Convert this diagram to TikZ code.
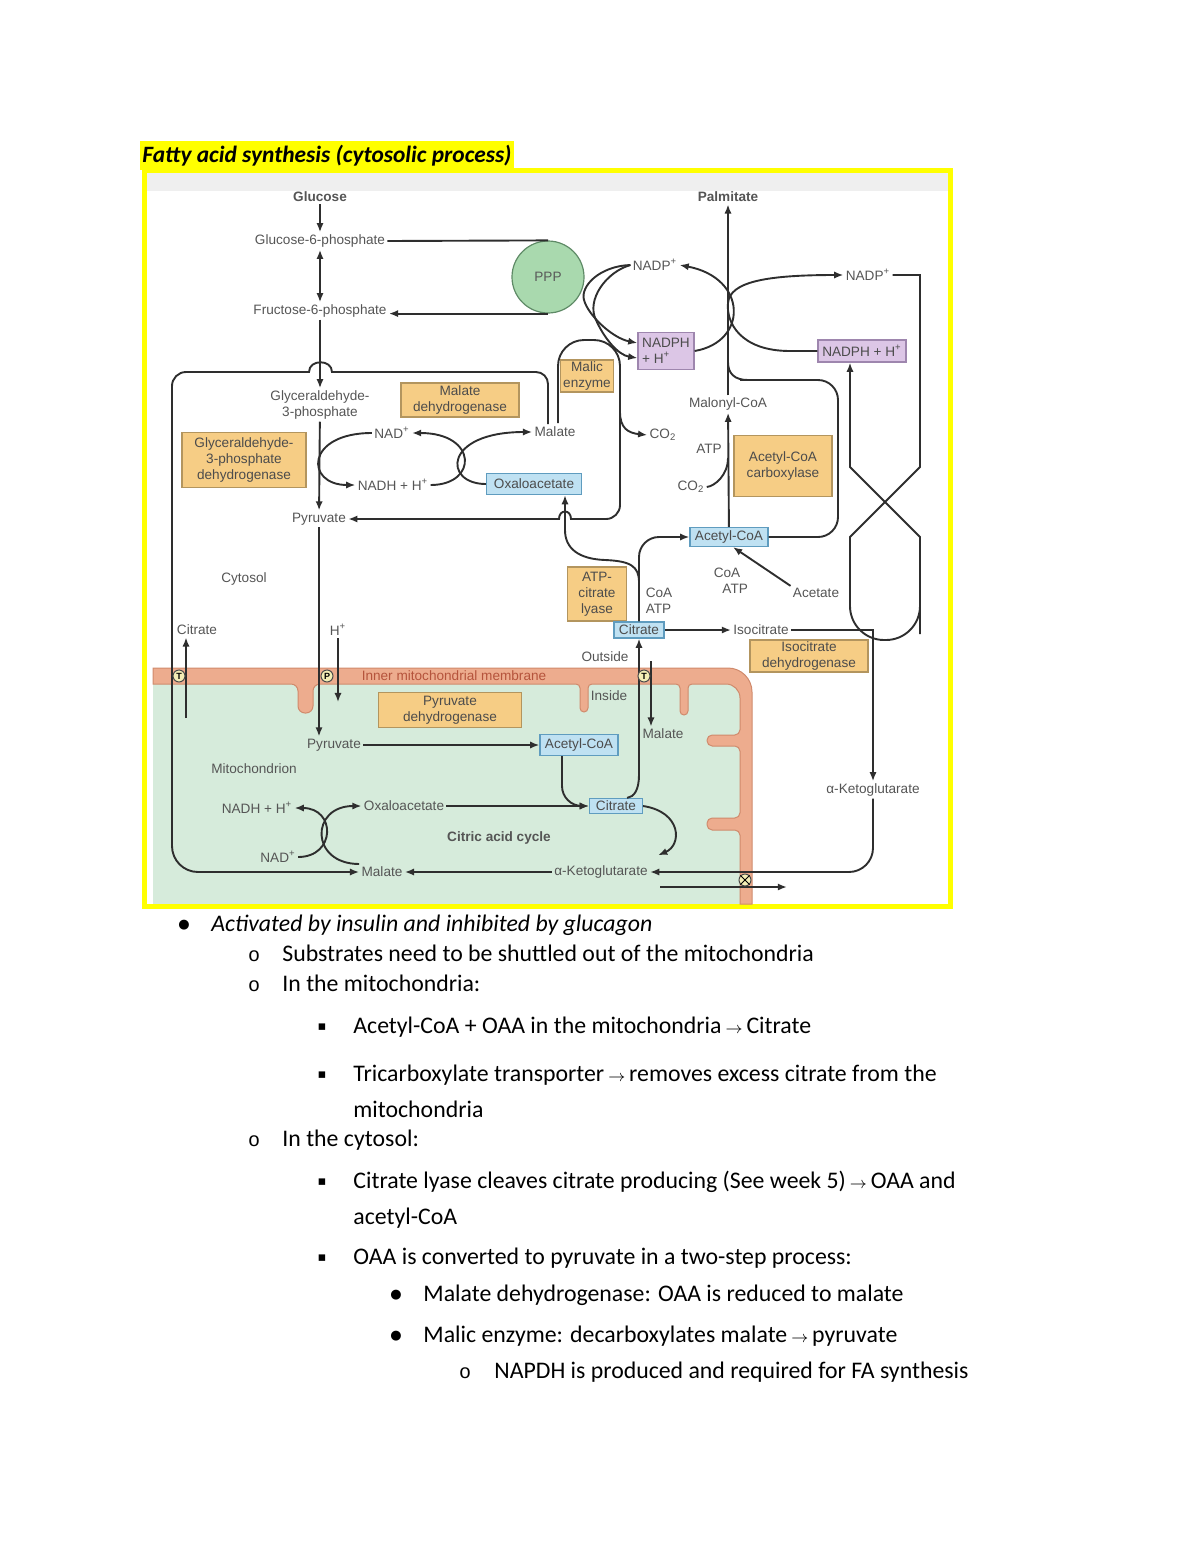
\documentclass[tikz,border=0pt]{standalone}
\usepackage{fontspec}
\setmainfont{Carlito}
\newfontfamily\arialfont{Liberation Sans}
\newfontfamily\symfont{DejaVu Sans}
\newfontfamily\courfont{Liberation Mono}
\usetikzlibrary{arrows.meta}

\definecolor{hlyellow}{HTML}{FFFF00}
\definecolor{bandgrey}{HTML}{EFEFEF}
\definecolor{mitogreen}{HTML}{D6EBDB}
\definecolor{memfill}{HTML}{EDAC8E}
\definecolor{memedge}{HTML}{D08A6C}
\definecolor{enzfill}{HTML}{F6CD85}
\definecolor{enzline}{HTML}{B3955E}
\definecolor{metfill}{HTML}{BFE1F2}
\definecolor{metline}{HTML}{5F9CBF}
\definecolor{nadfill}{HTML}{DCC6E6}
\definecolor{nadline}{HTML}{9E86AE}
\definecolor{pppfill}{HTML}{A9D9AE}
\definecolor{pppline}{HTML}{5E8A66}
\definecolor{txtgrey}{HTML}{555555}
\definecolor{linegrey}{HTML}{2E2E2E}
\definecolor{memtext}{HTML}{B5543C}
\definecolor{portfill}{HTML}{F3EDB5}

\newcommand{\lblfont}{\arialfont\fontsize{6.8}{8}\selectfont}
\newcommand{\bodyfont}{\fontsize{11.9}{14}\selectfont}
\newcommand{\sarrow}{\,{$\scriptstyle\rightarrow$}\,}

\tikzset{
  lbl/.style={font=\lblfont, text=txtgrey, inner sep=1pt, align=center},
  boldlbl/.style={lbl, font=\lblfont\bfseries},
  enzbox/.style={lbl, draw=enzline, fill=enzfill, line width=0.6pt, text=black!70, inner sep=0.5pt},
  metbox/.style={lbl, draw=metline, fill=metfill, line width=0.6pt, text=black!70, inner sep=0.5pt},
  nadbox/.style={lbl, draw=nadline, fill=nadfill, line width=0.6pt, text=black!70, inner sep=0.5pt},
  flow/.style={draw=linegrey, line width=0.95pt, ->},
  flowboth/.style={draw=linegrey, line width=0.95pt, <->},
  link/.style={draw=linegrey, line width=0.95pt},
  port/.style={circle, draw=black!70, fill=portfill, line width=0.5pt, minimum size=6pt, inner sep=0pt,
    font=\arialfont\fontsize{4.5}{4.5}\selectfont\bfseries},
  bodytxt/.style={anchor=base west, font=\bodyfont, inner sep=0pt},
  dotbullet/.style={font=\symfont\fontsize{6.5}{6.5}\selectfont, inner sep=0pt},
  ringbullet/.style={font=\courfont\fontsize{10}{10}\selectfont, inner sep=0pt},
  sqbullet/.style={font=\symfont\fontsize{6.5}{6.5}\selectfont, inner sep=0pt},
}

\begin{document}
\begin{tikzpicture}[x=0.5pt, y=-0.5pt, >={Latex[length=4.6pt,width=3.6pt]}]
  \useasboundingbox (0,0) rectangle (1200,1553);
  % 标题与黄色框
  \fill[hlyellow] (140,141) rectangle (514,170);
  \node[anchor=west, inner sep=0pt, font=\fontsize{11.7}{13}\selectfont\bfseries\itshape] (title) at (142,156)
    {Fatty acid synthesis (cytosolic process)};
  \draw[hlyellow, line width=2.5pt] (144.5,170.5) rectangle (950.5,906.5);
  \fill[bandgrey] (147,173) rectangle (948,191);
  % 线粒体背景与内膜
  \fill[mitogreen] (153,684) rectangle (740,904);
  \filldraw[fill=memfill, draw=memedge, line width=0.5pt]
    (153,668) [rounded corners=12pt] -- (752,668) -- (752,800) [sharp corners] -- (752,904) -- (740,904)
    -- (740,860) [rounded corners=2.6pt] -- (740,830) -- (707,830) -- (707,818) -- (740,818)
    -- (740,746) -- (707,746) -- (707,735) -- (740,735) -- (740,715) [rounded corners=7pt] -- (740,684)
    -- (710,684) [rounded corners=2pt] -- (688,684) -- (688,715) -- (680,715) -- (680,684)
    -- (588,684) -- (588,712) -- (580,712) -- (580,684) -- (400,684) [rounded corners=3.5pt]
    -- (313,684) -- (313,713) -- (298,713) -- (298,684) -- (250,684) [sharp corners] -- (153,684) -- cycle;

  % 胞质
  \node[boldlbl] (glc) at (320,197) {Glucose};
  \node[lbl] (g6p) at (320,241) {Glucose-6-phosphate};
  \node[lbl] (f6p) at (320,311) {Fructose-6-phosphate};
  \node[circle, draw=pppline, fill=pppfill, line width=0.6pt, minimum size=36pt, inner sep=0pt,
    font=\lblfont, text=black!65] (ppp) at (548,277) {PPP};
  \node[lbl] (g3p) at (320,405) {Glyceraldehyde-\\3-phosphate};
  \node[enzbox, minimum width=62pt, minimum height=27.5pt] (gapdh) at (244,460) {Glyceraldehyde-\\3-phosphate\\dehydrogenase};
  \node[enzbox, minimum width=59pt, minimum height=17pt] (mdh) at (460,400) {Malate\\dehydrogenase};
  \node[lbl] (nadc) at (392,433) {NAD\textsuperscript{+}};
  \node[lbl] (nadhc) at (393,485) {NADH + H\textsuperscript{+}};
  \node[lbl] (malc) at (555,432) {Malate};
  \node[metbox, minimum width=47.5pt, minimum height=10.5pt] (oaac) at (534,484) {Oxaloacetate};
  \node[lbl] (pyrc) at (319,519) {Pyruvate};
  \node[enzbox, minimum width=26.5pt, minimum height=16pt] (malic) at (587,376) {Malic\\enzyme};
  \node[lbl] (co2a) at (663,435) {CO\textsubscript{2}};
  \node[nadbox, minimum width=28pt, minimum height=18.5pt, align=left] (nadphL) at (666,351) {NADPH\\+ H\textsuperscript{+}};
  \node[lbl] (nadpL) at (655,265) {NADP\textsuperscript{+}};
  \node[boldlbl] (palm) at (728,197) {Palmitate};
  \node[lbl] (nadpR) at (868,275) {NADP\textsuperscript{+}};
  \node[nadbox, minimum width=44pt, minimum height=11pt] (nadphR) at (862,351) {NADPH + H\textsuperscript{+}};
  \node[lbl] (malon) at (728,404) {Malonyl-CoA};
  \node[lbl] (atp1) at (709,449) {ATP};
  \node[lbl] (co2b) at (691,487) {CO\textsubscript{2}};
  \node[enzbox, minimum width=49pt, minimum height=30.5pt] (acc) at (783,466) {Acetyl-CoA\\carboxylase};
  \node[metbox, minimum width=39pt, minimum height=9.5pt] (accoac) at (729,537) {Acetyl-CoA};
  \node[lbl] (coaatp1) at (727,581) {CoA\\\hspace*{1.2em}ATP};
  \node[lbl] (acet) at (816,593) {Acetate};
  \node[enzbox, minimum width=29.5pt, minimum height=27pt] (acl) at (597,594) {ATP-\\citrate\\lyase};
  \node[lbl, align=left] (coaatp2) at (659,601) {CoA\\ATP};
  \node[metbox, minimum width=25pt, minimum height=8pt] (citc) at (639,630) {Citrate};
  \node[lbl] (isocit) at (761,630) {Isocitrate};
  \node[enzbox, minimum width=59pt, minimum height=16pt] (icdh) at (809,656) {Isocitrate\\dehydrogenase};
  \node[lbl] (akgc) at (873,790) {α-Ketoglutarate};
  \node[lbl] (cytosol) at (244,579) {Cytosol};
  \node[lbl] (citl) at (197,630) {Citrate};
  \node[lbl] (hplus) at (338,630) {H\textsuperscript{+}};
  \node[lbl] (outside) at (605,657) {Outside};
  % 线粒体
  \node[lbl, text=memtext] (imm) at (454,676) {Inner mitochondrial membrane};
  \node[lbl] (inside) at (609,696) {Inside};
  \node[enzbox, minimum width=71.5pt, minimum height=17.5pt] (pdh) at (450,710) {Pyruvate\\dehydrogenase};
  \node[lbl] (pyrm) at (334,745) {Pyruvate};
  \node[metbox, minimum width=39pt, minimum height=10.5pt] (accoam) at (579,745) {Acetyl-CoA};
  \node[lbl] (malm1) at (663,734) {Malate};
  \node[lbl] (mito) at (254,769) {Mitochondrion};
  \node[lbl] (nadhm) at (257,808) {NADH + H\textsuperscript{+}};
  \node[lbl] (oaam) at (404,806) {Oxaloacetate};
  \node[metbox, minimum width=26.5pt, minimum height=7.5pt] (citm) at (616,806) {Citrate};
  \node[boldlbl] (cac) at (499,838) {Citric acid cycle};
  \node[lbl] (nadm) at (278,857) {NAD\textsuperscript{+}};
  \node[lbl] (malm) at (382,872) {Malate};
  \node[lbl] (akgm) at (601,872) {α-Ketoglutarate};

  % 自由端点
  \coordinate (mme) at (558,423);
  \coordinate (mebr) at (620,412);
  \coordinate (mloop) at (548,424);
  \coordinate (xleft) at (850,467);
  \coordinate (co2j) at (728,458);
  \coordinate (fasj) at (728,362);
  \coordinate (aclbr) at (639,582);
  \coordinate (malout) at (651,661);
  \coordinate (citin) at (186,718);
  \coordinate (antiA) at (660,887);
  \coordinate (antiB) at (787,887);

  % 糖酵解与 PPP
  \draw[flow] (glc) -- (g6p);
  \draw[flowboth] (g6p) -- (f6p);
  \draw[link] (g6p.east) -- (ppp.north);
  \draw[flow] (ppp.south) -- (f6p.east |- ppp.south);
  \draw[flow] (f6p) -- (g3p);
  \draw[flow] (g3p) -- (pyrc);
  \draw[flow] (nadc.west) .. controls (305,433) and (305,485) .. (nadhc.west);
  \draw[flow] (nadhc.east) .. controls (478,485) and (478,433) .. (nadc.east);
  \draw[flow] (oaac.west) .. controls (443,484) and (443,432) .. (malc.west);
  % 苹果酸酶
  \draw[flow] (mme) [rounded corners=13pt] -- (558,340) -- (620,340) -- (620,470) [rounded corners=7pt] -- (620,519)
    -- (590,519) [sharp corners] -- (571,519) .. controls (571,509) and (559,509) .. (559,519) -- (pyrc.east);
  \draw[flow] (mebr) .. controls (620,428) and (628,433) .. (co2a.west);
  % 苹果酸进入线粒体
  \draw[flow] (mloop) [rounded corners=6pt] -- (548,372) -- (420,372) [sharp corners] -- (332,372)
    .. controls (332,359) and (309,359) .. (309,372) [rounded corners=7pt] -- (172,372) -- (172,700)
    [rounded corners=13pt] -- (172,872) -- (250,872) [sharp corners] -- (malm.west);
  % NADPH
  \draw[flow] (nadpL.west) .. controls (600,266) and (580,286) .. (584,300) .. controls (588,315) and (612,338) .. ([yshift=4pt]nadphL.west);
  \draw[flow] (nadpL.west) .. controls (606,272) and (586,300) .. (596,320) .. controls (604,338) and (618,355) .. ([yshift=-3.5pt]nadphL.west);
  \draw[flow] (nadphL.east) .. controls (748,342) and (748,278) .. (nadpL.east);
  \draw[flow] (nadphR.west) -- (790,351) .. controls (740,351) and (726,322) .. (728,303) .. controls (730,282) and (765,275) .. (nadpR.west);
  \draw[flow] (nadpR.east) -- (920,275) -- (920,467) -- (850,537) -- (850,600) [rounded corners=17pt] -- (850,640)
    -- (920,640) -- (920,600) [sharp corners] -- (920,537) -- (xleft) -- (xleft |- nadphR.south);
  % 脂肪酸合成
  \draw[flow] (malon) -- (palm);
  \draw[flow] (accoac) -- (malon);
  \draw[link] (co2b.east) .. controls (715,486) and (728,475) .. (co2j);
  \draw[link] (accoac.east) [rounded corners=10pt] -- (838,537) -- (838,380) -- (760,380) [sharp corners] -- (748,380)
    .. controls (735,380) and (728,374) .. (fasj);
  \draw[flow] (acet.north west) -- ([xshift=2pt]accoac.south);
  \draw[flow, rounded corners=10pt] (citc.north) |- (accoac.west);
  \draw[flow] (aclbr) .. controls (639,566) and (630,561) .. (605,560) .. controls (578,559) and (565,548) .. (565,530)
    -- ([xshift=15.5pt]oaac.south);
  \draw[flow] (citc.east) -- (isocit.west);
  \draw[flow] (isocit.east) -| (akgc.north);
  \draw[flow, rounded corners=12pt] (akgc.south) |- (akgm.east);
  \draw[flow] (antiA) -- (antiB);
  % 跨膜转运
  \draw[flow] (citin) -- (citin |- citl.south);
  \draw[flow] (pyrc.south) -- (pyrc.south |- pyrm.north);
  \draw[flow] (hplus.south) -- ++(0,64);
  \draw[flow] (malout) -- (malout |- malm1.north);
  \draw[flow] ([xshift=-8pt]citm.north east) .. controls (634,797) and (639,790) .. (639,775) -- (citc.south);
  % 柠檬酸循环
  \draw[flow] (pyrm.east) -- (accoam.west);
  \draw[flow, rounded corners=10pt] ([xshift=-8.5pt]accoam.south) |- (citm.west);
  \draw[flow] (oaam.east) -- (citm.west);
  \draw[flow] (citm.east) .. controls (682,812) and (682,845) .. ([xshift=4pt,yshift=4pt]akgm.north east);
  \draw[flow] (akgm.west) -- (malm.east);
  \draw[flow] (nadm.east) .. controls (336,857) and (336,808) .. (nadhm.east);
  \draw[flow] ([yshift=4pt]malm.west) .. controls (310,864) and (310,806) .. (oaam.west);

  % 转运体
  \node[port] (tcit) at (179,676) {T};
  \node[port] (tpyr) at (327,676) {P};
  \node[port] (tcit2) at (644,676) {T};
  \node[port] (takg) at (745,880) {};
  \draw[line width=0.4pt] (takg.north west) -- (takg.south east) (takg.north east) -- (takg.south west);

  % 要点
  \node[dotbullet] (k1) at (184,925) {●};
  \node[bodytxt, font=\bodyfont\itshape] (b1) at (211,931) {Activated by insulin and inhibited by glucagon};
  \node[ringbullet] (k2) at (254,956) {o};
  \node[bodytxt] (b2) at (282,961) {Substrates need to be shuttled out of the mitochondria};
  \node[ringbullet] (k3) at (254,986) {o};
  \node[bodytxt] (b3) at (282,991) {In the mitochondria:};
  \node[sqbullet] (k4) at (322,1027) {▪};
  \node[bodytxt] (b4) at (353,1033) {Acetyl-CoA + OAA in the mitochondria\sarrow Citrate};
  \node[sqbullet] (k5) at (322,1075) {▪};
  \node[bodytxt] (b5) at (353,1081) {Tricarboxylate transporter\sarrow removes excess citrate from the};
  \node[bodytxt] (b6) at (353,1117) {mitochondria};
  \node[ringbullet] (k6) at (254,1141) {o};
  \node[bodytxt] (b7) at (282,1146) {In the cytosol:};
  \node[sqbullet] (k7) at (322,1182) {▪};
  \node[bodytxt] (b8) at (353,1188) {Citrate lyase cleaves citrate producing (See week 5)\sarrow OAA and};
  \node[bodytxt] (b9) at (353,1224) {acetyl-CoA};
  \node[sqbullet] (k8) at (322,1258) {▪};
  \node[bodytxt] (b10) at (353,1264) {OAA is converted to pyruvate in a two-step process:};
  \node[dotbullet] (k9) at (396,1295) {●};
  \node[bodytxt] (b11) at (423,1301) {Malate dehydrogenase: OAA is reduced to malate};
  \node[dotbullet] (k10) at (396,1336) {●};
  \node[bodytxt] (b12) at (423,1342) {Malic enzyme: decarboxylates malate\sarrow pyruvate};
  \node[ringbullet] (k11) at (465,1373) {o};
  \node[bodytxt] (b13) at (494,1378) {NAPDH is produced and required for FA synthesis};
\end{tikzpicture}
\end{document}
